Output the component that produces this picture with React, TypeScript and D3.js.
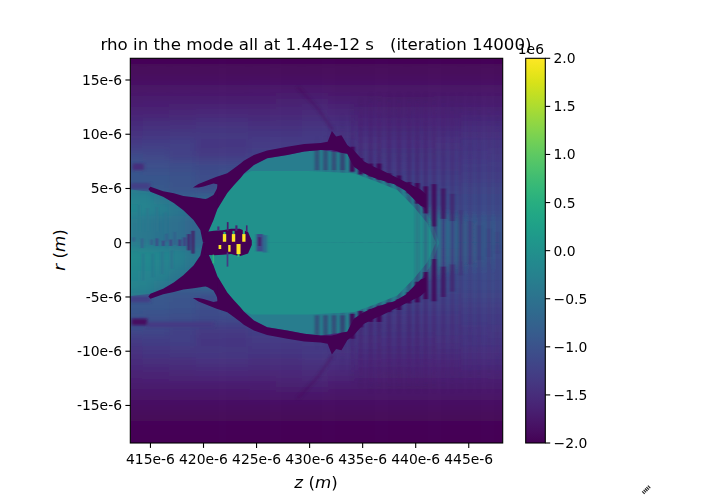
import React from "react";
import * as d3 from "d3";

const TITLE = "rho in the mode all at 1.44e-12 s   (iteration 14000)";
const zTicks = [415, 420, 425, 430, 435, 440, 445];
const rTicks = [15, 10, 5, 0, -5, -10, -15];
const cbTicks = [2, 1.5, 1, 0.5, 0, -0.5, -1, -1.5, -2];

// background density (1e6), upper half r >= 0, mirrored below
const bgZ = [413, 415.5, 418, 420.5, 423, 425.5, 428, 430.5, 433, 435.5, 438, 440.5, 443, 445.5, 448];
const bgR = [18.5, 17, 16, 15, 14, 13, 12, 11, 10, 9, 8, 7, 6, 5, 4, 3, 2, 1, 0];
const bgV = [
  [-2, -2, -2, -2, -2, -2, -2, -2, -2, -2, -2, -2, -2, -2, -2],
  [-1.98, -1.98, -1.98, -1.98, -1.98, -1.98, -1.98, -1.98, -1.98, -1.98, -1.98, -1.98, -1.98, -1.98, -1.98],
  [-1.93, -1.93, -1.93, -1.93, -1.93, -1.93, -1.93, -1.93, -1.93, -1.93, -1.93, -1.93, -1.93, -1.93, -1.93],
  [-1.86, -1.86, -1.85, -1.85, -1.85, -1.85, -1.85, -1.85, -1.86, -1.86, -1.86, -1.86, -1.86, -1.86, -1.86],
  [-1.78, -1.77, -1.76, -1.76, -1.76, -1.75, -1.75, -1.75, -1.77, -1.78, -1.78, -1.78, -1.78, -1.78, -1.78],
  [-1.7, -1.68, -1.67, -1.67, -1.67, -1.66, -1.65, -1.64, -1.67, -1.71, -1.72, -1.72, -1.7, -1.7, -1.7],
  [-1.62, -1.6, -1.58, -1.56, -1.56, -1.57, -1.56, -1.54, -1.57, -1.63, -1.65, -1.64, -1.63, -1.62, -1.6],
  [-1.52, -1.5, -1.47, -1.45, -1.45, -1.47, -1.47, -1.43, -1.46, -1.55, -1.56, -1.56, -1.55, -1.53, -1.52],
  [-1.42, -1.38, -1.36, -1.35, -1.36, -1.38, -1.38, -1.34, -1.4, -1.46, -1.48, -1.48, -1.46, -1.45, -1.45],
  [-1.3, -1.27, -1.25, -1.38, -1.38, -1.3, -1.3, -1.3, -1.38, -1.4, -1.42, -1.42, -1.4, -1.38, -1.38],
  [-1.1, -1.15, -1.25, -1.32, -1.3, -1.25, -1.25, -1.25, -1.33, -1.35, -1.36, -1.36, -1.35, -1.33, -1.32],
  [-1.0, -1.02, -1.05, -1.12, -1.12, -1.2, -1.2, -1.2, -1.25, -1.3, -1.3, -1.3, -1.3, -1.28, -1.28],
  [-0.95, -0.95, -0.98, -1.05, -1, -1, -1, -1, -1.1, -1.2, -1.25, -1.25, -1.24, -1.23, -1.22],
  [-0.9, -0.9, -1.0, -1.08, -0.7, -0.7, -0.7, -0.7, -0.9, -1.1, -1.2, -1.2, -1.18, -1.17, -1.16],
  [-0.8, -0.8, -0.8, -0.7, -0.5, -0.5, -0.5, -0.5, -0.6, -0.8, -1.05, -1.12, -1.12, -1.12, -1.12],
  [-0.7, -0.7, -0.7, -0.6, -0.5, -0.5, -0.5, -0.5, -0.5, -0.5, -0.8, -1.02, -1.08, -1.08, -1.08],
  [-0.6, -0.6, -0.6, -0.6, -0.5, -0.5, -0.5, -0.5, -0.5, -0.5, -0.55, -0.9, -1.03, -1.04, -1.05],
  [-0.6, -0.6, -0.6, -0.6, -0.5, -0.5, -0.5, -0.5, -0.5, -0.5, -0.5, -0.8, -0.98, -1.0, -1.02],
  [-0.6, -0.6, -0.6, -0.6, -0.5, -0.5, -0.5, -0.5, -0.5, -0.5, -0.5, -0.72, -0.95, -0.98, -1.0],
];

// rear bubble interior
const rearZ = [413, 414.5, 416, 417.5, 419];
const rearR = [5, 4, 3, 2, 1, 0];
const rearV = [
  [-0.35, -0.4, -0.55, -0.7, -0.8],
  [-0.2, -0.25, -0.4, -0.55, -0.7],
  [-0.15, -0.2, -0.28, -0.42, -0.6],
  [-0.1, -0.15, -0.2, -0.3, -0.45],
  [-0.05, -0.1, -0.15, -0.25, -0.4],
  [-0.35, -0.4, -0.5, -0.55, -0.7],
];
const rearEdgeZ = [413.1, 415, 416.2, 417.2, 418.1, 419.06, 419.7, 419.95];
const rearEdgeIn = [4.9, 4.7, 4.24, 3.66, 3.0, 2.1, 1.17, 0];

// dark rear sheath and the wedge joining it to the front sheath
const wedgeZ = [414.8, 415, 416.2, 417.2, 418.1, 419.06, 419.7, 419.95, 420.2, 420.4, 420.94, 421.2, 421.5];
const wedgeOut = [4.95, 5.16, 4.75, 4.55, 4.3, 4.2, 4.1, 4.05, 4.03, 4.1, 4.4, 4.86, 5.6];
const wedgeIn = [4.95, 4.7, 4.24, 3.66, 3.0, 2.1, 1.17, 0, 0, 0.9, 2.1, 2.8, 3.6];

// front sheath: outer and inner radius
const shellZ = [419.0, 419.53, 420, 420.94, 421.3, 421.32, 422.24, 422.86, 423.49, 423.8, 424.75, 426, 427.9, 429.5, 431.04, 431.7, 432.1, 432.5, 433, 433.55, 434.18, 435.1, 436.06, 437, 438, 439.05, 439.84, 440.47, 440.94];
const shellOut = [5.1, 5.41, 5.6, 5.96, 6.1, 6.1, 6.4, 6.85, 7.3, 7.55, 8.08, 8.5, 8.85, 9.1, 9.2, 9.3, 10.3, 9.8, 9.9, 9.0, 8.5, 7.5, 7.0, 6.6, 6.1, 5.6, 5.2, 4.9, 4.5];
const shellIn = [5.1, 5.09, 5.18, 5.46, 5.4, 3.1, 4.58, 5.3, 5.96, 6.35, 7.16, 7.78, 8.08, 8.4, 8.54, 8.54, 8.54, 8.45, 8.3, 8.2, 7.0, 6.4, 6.0, 5.7, 5.4, 4.8, 4.0, 3.4, 3.2];

// sheath-side band and uniform ion column
const bodyZ = [420.4, 420.94, 421.45, 422.24, 422.86, 423.49, 423.8, 424.75, 426, 427.9, 429.5, 431.04, 433.55, 434.18, 435.1, 436.06, 437, 438, 439.05, 439.84, 440.47, 441.5, 442.2];
const bodyR = [0.9, 2.1, 3.47, 4.58, 5.3, 5.96, 6.35, 7.16, 7.78, 8.08, 8.4, 8.54, 8.2, 7.0, 6.4, 6.0, 5.7, 5.4, 4.8, 4.0, 3.4, 2.0, 0];
const tealZ = [420.4, 420.94, 421.45, 422.24, 422.86, 423.49, 423.8, 424.5, 430, 434.18, 436.4, 438.27, 439.84, 441.1, 441.9];
const tealR = [0.9, 2.1, 3.47, 4.58, 5.3, 5.96, 6.3, 6.62, 6.62, 6.4, 5.6, 4.86, 3.3, 1.8, 0];

// modulation stripes ahead of the sheath
const stripeZ = [430.7, 431.5, 432.3, 433.1, 434.02, 434.81, 435.75, 436.54, 437.48, 438.42, 439.37, 440.15, 440.94, 441.73, 442.6, 443.45, 444.24, 445.12, 445.97, 446.91, 447.7];
const stripeHi = [8.6, 8.6, 8.6, 8.6, 8.85, 7.8, 7.3, 7.3, 6.4, 6.2, 5.6, 5.5, 5.2, 5.4, 5.0, 4.5, 3.0, 2.0, 1.6, 1.3, 1.0];
const stripeLo = [6.7, 6.7, 6.7, 6.7, 6.55, 6.3, 6.1, 5.8, 5.5, 5.2, 4.55, 3.6, 2.7, 1.5, 2.2, 2.0, 0, 0, 0, 0, 0];
const stripeA = [0.3, 0.3, 0.3, 0.35, 0.9, 0.9, 0.9, 0.9, 0.9, 0.9, 0.9, 0.9, 0.85, 0.75, 0.55, 0.3, 0.12, 0.1, 0.08, 0.07, 0.06];
const stripeFaintTop = [10, 10, 11, 12, 13, 13.5, 14, 14, 14, 14, 14, 14, 14, 14, 14, 14, 14, 14, 14, 14, 14];
const stripeFaintA = [0.06, 0.08, 0.1, 0.14, 0.2, 0.22, 0.24, 0.24, 0.24, 0.24, 0.24, 0.24, 0.22, 0.2, 0.17, 0.14, 0.12, 0.1, 0.09, 0.08, 0.07];
const tailZ = [440.15, 440.94, 441.73];
const tailHi = [3.6, 2.7, 1.5];
const tailA = [0.18, 0.26, 0.3];
const glowZ = [441.33, 442.17, 443.02, 443.85, 444.68, 445.55, 446.44, 447.3];
const glowTop = [3.6, 3.4, 3.2, 3.0, 3.0, 3.0, 3.0, 3.0];
const glowA = [0.55, 0.48, 0.34, 0.24, 0.16, 0.11, 0.08, 0.06];

// faint oblique wake ahead of the bubble
const wakeZ = [428.87, 430.75, 432.17];
const wakeR = [14.35, 12.4, 10.4];

// on-axis cavity
const coreZ = [420.1, 421, 421.8, 422.6, 423.4, 424.2, 424.55];
const coreTop = [1.0, 1.1, 1.15, 1.3, 1.3, 1.0, 0.2];
const coreBot = [-1.1, -1.15, -1.1, -1.05, -1.25, -1.0, -0.2];

// patches: z0, z1, r0, r1, value
const hotCells = [
  [421.82, 422.14, 0.09, 0.8, 2],
  [422.67, 422.99, 0.09, 0.8, 2],
  [423.65, 423.96, 0.09, 0.8, 2],
  [421.42, 421.67, -0.58, -0.21, 2],
  [422.33, 422.55, -0.83, -0.21, 2],
  [423.11, 423.49, -1.04, -0.12, 2],
  [421.88, 422.08, 0.8, 1.0, 0.5],
  [422.73, 422.93, 0.8, 1.1, 0.5],
  [423.7, 423.9, 0.8, 1.2, 0.5],
  [423.2, 423.4, -1.3, -1.04, 0.7],
  [420.85, 421.0, -1.9, -1.1, 0.6],
];
const sharpPatches = [
  [422.2, 422.36, 1.1, 1.9, -1.7],
  [423.0, 423.2, 1.1, 1.6, -1.6],
  [424.0, 424.15, 1.0, 1.6, -1.6],
  [422.18, 422.34, -2.2, -0.9, -1.3],
  [421.3, 421.5, 1.1, 1.5, -1.4],
];
const softPatches = [
  [413.3, 414.4, 6.7, 7.3, -1.5],
  [413.2, 414.7, -7.6, -7.0, -1.85],
  [414.7, 421, -7.8, -7.3, -1.3],
  [413.1, 415, 4.95, 5.5, -1.25],
  [413.1, 415, -5.5, -4.95, -1.25],
];
const wakeSoft = [
  [425.55, 426.0, -0.9, 0.7, -0.6],
  [425.0, 425.6, -0.8, 0.8, -1.1],
  [425.15, 425.4, -0.3, 0.5, -1.8],
];
const rearStreaks = [
  [413.4, 0.1, 0.5, -0.8],
  [414.2, -0.5, 0.4, -0.8],
  [415.1, -0.2, 0.3, -0.9],
  [415.6, -0.3, 0.4, -1.2],
  [416.2, -0.3, 0.2, -1.3],
  [416.5, 0.1, 0.9, -0.8],
  [416.9, -0.3, 0.3, -1.3],
  [417.3, -0.2, 1.0, -0.8],
  [417.75, -0.3, 0.3, -1.5],
  [418.2, -0.3, 0.5, -1.4],
  [418.6, -0.7, 0.8, -1.8],
  [419.0, -1.0, 1.1, -1.9],
  [413.9, 1.0, 3.5, -0.35],
  [414.7, 1.0, 3.2, -0.4],
  [415.6, 1.0, 3.3, -0.42],
  [416.4, 0.8, 2.8, -0.45],
  [414.3, -3.5, -1.0, -0.38],
  [415.2, -3.2, -1.0, -0.42],
  [416.1, -2.9, -0.8, -0.45],
  [417.0, -2.4, -0.7, -0.52],
];

const color = d3.scaleSequential(d3.interpolateViridis).domain([-2, 2]);
const x = d3.scaleLinear().domain([413.1, 448.2]).range([130.3, 502.7]);
const y = d3.scaleLinear().domain([17, -18.46]).range([58.3, 443]);
const cbY = d3.scaleLinear().domain([2, -2]).range([58.3, 443]);
const cbStops = d3.range(0, 33).map((i) => i / 32);

const FONT = "'DejaVu Sans', sans-serif";

function edges(a: number[]) {
  return a.map((v, i) => [
    i === 0 ? v - (a[1] - a[0]) / 2 - 2 : (a[i - 1] + v) / 2,
    i === a.length - 1 ? v + (v - a[i - 1]) / 2 + 2 : (a[i + 1] + v) / 2,
  ]);
}

function Grid({ zs, rs, vs }: { zs: number[]; rs: number[]; vs: number[][] }) {
  const ze = edges(zs);
  const asc = edges(rs.slice().reverse()).reverse();
  const cells: React.ReactNode[] = [];
  [1, -1].forEach((s) =>
    rs.forEach((_, i) =>
      zs.forEach((_, j) => {
        const a = y(s * asc[i][0]);
        const b = y(s * asc[i][1]);
        cells.push(
          <rect
            key={`${s}-${i}-${j}`}
            x={x(ze[j][0])}
            width={x(ze[j][1]) - x(ze[j][0]) + 0.5}
            y={Math.min(a, b) - 0.25}
            height={Math.abs(a - b) + 0.5}
            fill={color(vs[i][j])}
          />
        );
      })
    )
  );
  return <>{cells}</>;
}

function band(zs: number[], hi: number[], lo: number[], s: number) {
  return (
    d3
      .area<number>()
      .x((d) => x(d))
      .y0((_, i) => y(s * lo[i]))
      .y1((_, i) => y(s * hi[i]))(zs) || ""
  );
}

function Patch({ p }: { p: number[] }) {
  return (
    <rect
      x={x(p[0])}
      width={x(p[1]) - x(p[0])}
      y={y(p[3])}
      height={y(p[2]) - y(p[3])}
      fill={color(p[4])}
    />
  );
}

function Fade({ id, c, flip }: { id: string; c: string; flip: boolean }) {
  return (
    <linearGradient id={id} x1="0" x2="0" y1={flip ? 1 : 0} y2={flip ? 0 : 1}>
      <stop offset={0} stopColor={c} stopOpacity={0} />
      <stop offset={0.45} stopColor={c} stopOpacity={1} />
      <stop offset={1} stopColor={c} stopOpacity={1} />
    </linearGradient>
  );
}

function VBar({ z, w, hi, lo, fill, opacity }: { z: number; w: number; hi: number; lo: number; fill: string; opacity: number }) {
  return (
    <rect
      x={x(z - w)}
      width={x(z + w) - x(z - w)}
      y={Math.min(y(hi), y(lo))}
      height={Math.abs(y(hi) - y(lo))}
      fill={fill}
      opacity={opacity}
    />
  );
}

export default function App() {
  const zeros = (a: number[]) => a.map(() => 0);
  return (
    <svg
      width={702}
      height={496}
      style={{ position: "absolute", left: 0, top: 0, display: "block", background: "#fff" }}
      fontFamily={FONT}
    >
      <defs>
        <clipPath id="plot">
          <rect x={x.range()[0]} y={y.range()[0]} width={x.range()[1] - x.range()[0]} height={y.range()[1] - y.range()[0]} />
        </clipPath>
        <clipPath id="rear">
          <path d={band(rearEdgeZ, rearEdgeIn, rearEdgeIn.map((v) => -v), 1)} />
        </clipPath>
        <filter id="soft" x="-10%" y="-10%" width="120%" height="120%">
          <feGaussianBlur stdDeviation="5 5" />
        </filter>
        <filter id="soft2" x="-10%" y="-10%" width="120%" height="120%">
          <feGaussianBlur stdDeviation="1.6 1.2" />
        </filter>
        <filter id="soft1" x="-10%" y="-10%" width="120%" height="120%">
          <feGaussianBlur stdDeviation="0.8 0.6" />
        </filter>
        <Fade id="darkUp" c={color(-2)} flip={false} />
        <Fade id="darkDown" c={color(-2)} flip={true} />
        <Fade id="glowUp" c={color(-0.1)} flip={false} />
        <Fade id="glowDown" c={color(-0.1)} flip={true} />
        <linearGradient id="cb" x1="0" x2="0" y1="0" y2="1">
          {cbStops.map((t) => (
            <stop key={t} offset={t} stopColor={color(2 - 4 * t)} />
          ))}
        </linearGradient>
      </defs>

      <g clipPath="url(#plot)">
        <g filter="url(#soft)">
          <Grid zs={bgZ} rs={bgR} vs={bgV} />
        </g>
        <g filter="url(#soft2)">
          {softPatches.map((p, i) => (
            <Patch key={i} p={p} />
          ))}
          {[1, -1].map((s) => (
            <path
              key={s}
              d={d3.line<number>().x((z) => x(z)).y((_, i) => y(s * wakeR[i]))(wakeZ) || ""}
              fill="none"
              stroke={color(-2)}
              strokeWidth={3}
              opacity={0.3}
            />
          ))}
        </g>
        <g clipPath="url(#rear)">
          <g filter="url(#soft)">
            <Grid zs={rearZ} rs={rearR} vs={rearV} />
          </g>
          <g filter="url(#soft1)">
            {rearStreaks.map((s, i) => (
              <rect key={i} x={x(s[0]) - 1} width={2.2} y={y(s[2])} height={y(s[1]) - y(s[2])} fill={color(s[3])} />
            ))}
          </g>
        </g>
        {[1, -1].map((s) => (
          <path key={s} d={band(bodyZ, bodyR, zeros(bodyR), s)} fill={color(-0.32)} />
        ))}
        <g filter="url(#soft1)">
          {[1, -1].map((s) => (
            <g key={s}>
              {glowZ.map((z, i) => (
                <VBar key={`g${i}`} z={z} w={0.2} hi={s * glowTop[i]} lo={0} fill={`url(#${s > 0 ? "glowUp" : "glowDown"})`} opacity={glowA[i]} />
              ))}
              {stripeZ.map((z, i) => (
                <VBar key={i} z={z} w={0.22} hi={s * stripeFaintTop[i]} lo={0} fill={`url(#${s > 0 ? "darkUp" : "darkDown"})`} opacity={stripeFaintA[i]} />
              ))}
            </g>
          ))}
        </g>
        {[1, -1].map((s) => (
          <path key={s} d={band(tealZ, tealR, zeros(tealR), s)} fill={color(0)} />
        ))}
        <g filter="url(#soft1)">
          {[1, -1].map((s) => (
            <g key={s}>
              {tailZ.map((z, i) => (
                <VBar key={`t${i}`} z={z} w={0.22} hi={s * tailHi[i]} lo={0} fill={color(-1.6)} opacity={tailA[i]} />
              ))}
              {stripeZ.map((z, i) => (
                <VBar key={i} z={z} w={0.22} hi={s * stripeHi[i]} lo={s * stripeLo[i]} fill={color(-2)} opacity={stripeA[i]} />
              ))}
            </g>
          ))}
          {wakeSoft.map((p, i) => (
            <Patch key={i} p={p} />
          ))}
        </g>
        {[1, -1].map((s) => (
          <g key={s}>
            <path d={band(wedgeZ, wedgeOut, wedgeIn, s)} fill={color(-2)} />
            <path d={band(shellZ, shellOut, shellIn, s)} fill={color(-2)} />
          </g>
        ))}
        <path d={band(coreZ, coreTop, coreBot, 1)} fill={color(-2)} />
        {sharpPatches.map((p, i) => (
          <Patch key={i} p={p} />
        ))}
        {hotCells.map((p, i) => (
          <Patch key={i} p={p} />
        ))}
      </g>
      <rect x={x.range()[0]} y={y.range()[0]} width={x.range()[1] - x.range()[0]} height={y.range()[1] - y.range()[0]} fill="none" stroke="#000" strokeWidth={1.1} />

      {zTicks.map((t) => (
        <g key={t}>
          <line x1={x(t)} x2={x(t)} y1={443} y2={447.9} stroke="#000" strokeWidth={1.1} />
          <text x={x(t)} y={464} fontSize={13.9} textAnchor="middle">{`${t}e-6`}</text>
        </g>
      ))}
      {rTicks.map((t) => (
        <g key={t}>
          <line x1={130.3} x2={125.4} y1={y(t)} y2={y(t)} stroke="#000" strokeWidth={1.1} />
          <text x={122} y={y(t) + 5} fontSize={13.9} textAnchor="end">{t === 0 ? "0" : `${t}e-6`}</text>
        </g>
      ))}

      <text x={316} y={50} fontSize={16.67} textAnchor="middle" style={{ whiteSpace: "pre" }}>{TITLE}</text>
      <text x={316} y={488} fontSize={16.67} textAnchor="middle">
        <tspan fontStyle="oblique">z</tspan>
        <tspan> (</tspan>
        <tspan fontStyle="oblique">m</tspan>
        <tspan>)</tspan>
      </text>
      <text transform="translate(65,250) rotate(-90)" fontSize={16.67} textAnchor="middle">
        <tspan fontStyle="oblique">r</tspan>
        <tspan> (</tspan>
        <tspan fontStyle="oblique">m</tspan>
        <tspan>)</tspan>
      </text>

      <rect x={525.7} y={58.3} width={19.6} height={384.7} fill="url(#cb)" stroke="#000" strokeWidth={1.1} />
      {cbTicks.map((t) => (
        <g key={t}>
          <line x1={545.3} x2={550.2} y1={cbY(t)} y2={cbY(t)} stroke="#000" strokeWidth={1.1} />
          <text x={553.5} y={cbY(t) + 5} fontSize={13.9}>{t.toFixed(1).replace("-", "\u2212")}</text>
        </g>
      ))}
      <text x={544} y={54} fontSize={13.9} textAnchor="end">1e6</text>

      <path d="M643 493 L649.5 486.5" stroke="#222" strokeWidth={3.5} strokeDasharray="1.2 0.8" />
    </svg>
  );
}
